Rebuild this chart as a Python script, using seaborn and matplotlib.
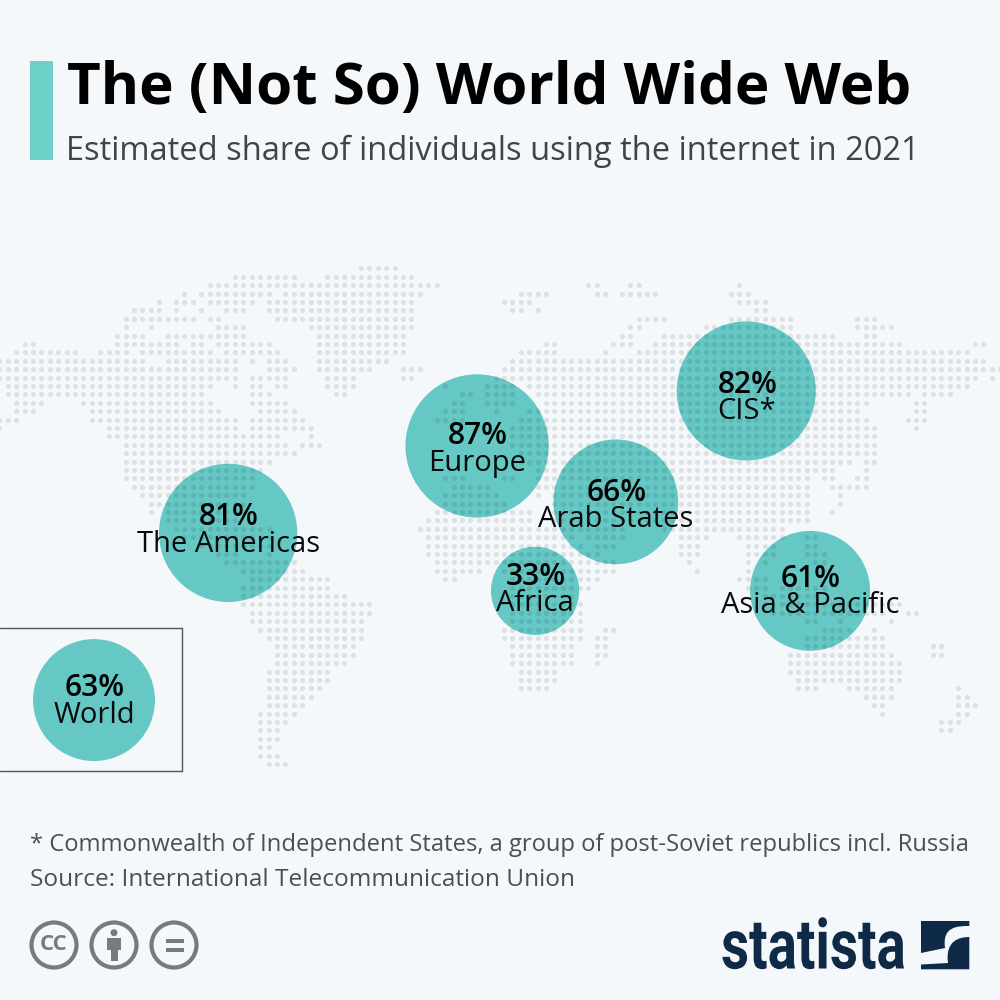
# -*- coding: utf-8 -*-
"""Share of individuals using the internet in 2021, bubbles on a dotted world map."""

import matplotlib.pyplot as plt
from matplotlib.patches import Circle, PathPatch, Rectangle
from matplotlib.path import Path
from matplotlib.patheffects import AbstractPathEffect
from matplotlib.transforms import Affine2D, Bbox
import pandas as pd
import seaborn as sns

regions = ["The Americas", "Europe", "CIS", "Arab States", "Africa", "Asia & Pacific", "World"]
region_labels = ["The Americas", "Europe", "CIS*", "Arab States", "Africa", "Asia & Pacific", "World"]
shares = [81, 87, 82, 66, 33, 61, 63]
# where each bubble sits, in columns / rows of the dot map
region_col = [26.2, 55.8, 87.8, 72.3, 62.7, 95.4, 10.25]
region_row = [31.5, 21.15, 14.6, 27.8, 38.4, 38.4, 51.4]

title = "The (Not So) World Wide Web"
subtitle = "Estimated share of individuals using the internet in 2021"
footnote = "* Commonwealth of Independent States, a group of post-Soviet republics incl. Russia"
source = "Source: International Telecommunication Union"

# dot map: one string per row, runs of occupied columns
map_rows = [
    "42:46",
    "27:34 38:48",
    "24:51 69:70 74:75 87",
    "21 23:31 33:49 61:64 70:71 73:77 86:88",
    "18 20:22 24:29 31:48 59:62 87:90",
    "15:18 20 23 26:28 31:48 60:61 63 89:90",
    "14:22 24:25 32:48 75:78 86:93 101:103",
    "14 17 25:28 36:48 74:75 83:93 101:105",
    "13:16 19:28 37:47 73:74 78:98 102:103",
    "2:3 13:20 22:23 25:31 37:47 64:65 72:74 77:106 115:116",
    "1:8 11:14 16:24 26:32 37:47 61:65 71 75:114",
    "-1:16 19:27 29 31:33 37:45 60:116",
    "-1:27 31:34 37:43 47:49 59:118",
    "-1:27 29:33 38:41 47:48 58:115 117",
    "0:24 27 29:30 32:33 38:41 52 57:60 62:114",
    "0:23 29:31 39:40 54:55 57:60 63:107 109:112",
    "1:4 9:24 29:33 53:54 57:60 64:102 108:109",
    "1:3 10:25 30:34 52:54 58 62:101 108:109",
    "-1:1 10:27 29:35 51:54 61:102 107:109",
    "-1 12:27 29:36 60:103 108",
    "12:32 36 60:103",
    "14:33 35:37 60:103",
    "14:34 61:103",
    "14:31 61:100 102:103",
    "14:30 63:98 102",
    "14:29 52:54 59:60 63:95 97:98 101:102",
    "15:29 53:57 63:95 98:102",
    "16:28 52:58 63 65:95 99",
    "17:28 52:59 65:95 99",
    "17 19:28 51:62 65:95 98",
    "19:27 50:62 65:95",
    "20:31 49:73 78:92",
    "21:31 50:67 69:73 80:83 87:92 95:96",
    "23:31 50:68 70:72 80:82 88:91 95:96",
    "25:27 31 50:70 80:82 88:91 95:97",
    "26:34 51:72 81 88 90 96:97",
    "28:35 51:56 59:72 82 88",
    "29:38 52:53 60:70 87:90",
    "28:38 60:69 88:90 92:97",
    "28:40 60:67 90:96",
    "28:43 60:68 90:106",
    "29:43 60:68 91:104 107:108",
    "29:42 60:68 95:96 99 105",
    "30:42 59:68 71:72 97:100 103",
    "31:42 59:68 70:71 95:104",
    "32:41 60:67 70:71 95:104 110:111",
    "32:41 60:67 70:71 93:105 110:111",
    "32:40 60:67 70 93:106",
    "31:38 61:65 93:106",
    "31:38 61:65 94:106",
    "31:37 61:64 94:96 100:105 113",
    "31:36 102:105 113:114",
    "31:35 103:104 113:115",
    "30:34 104 113:114",
    "30:33 111:113",
    "30:32 111:112",
    "30:32",
    "30:31",
    "30:32",
    "31:33",
]

bg = "#f5f8fb"
teal = "#65c8c4"
icon_grey = "#777b7c"
navy = "#0f2a47"

sns.set_theme(style="white")
plt.rcParams['font.family'] = ['Open Sans', 'DejaVu Sans']

# grid of the dot map -> picture coordinates
def col_to_x(col):
    return 7.8 + 8.41 * col

def row_to_y(row):
    return 268.3 + 8.4 * row

# no condensed bold font installed, so the logo word is squeezed sideways when drawn
class Squeeze(AbstractPathEffect):
    def __init__(self, sx):
        super().__init__()
        self.sx = sx

    def draw_path(self, renderer, gc, tpath, affine, rgbFace=None):
        renderer.draw_path(gc, tpath, Affine2D().scale(self.sx, 1) + affine, rgbFace)

dots = []
for r, row in enumerate(map_rows):
    for run in row.split():
        a, _, b = run.partition(":")
        for c in range(int(a), int(b or a) + 1):
            dots.append((col_to_x(c), row_to_y(r)))
df_dots = pd.DataFrame(dots, columns=["x", "y"])

df = pd.DataFrame({"region": regions, "label": region_labels, "share": shares,
                   "x": [col_to_x(c) for c in region_col],
                   "y": [row_to_y(r) for r in region_row]})

fig = plt.figure(figsize=(10, 10), dpi=100, facecolor=bg)
ax = fig.add_axes([0, 0, 1, 1], facecolor=bg)

# bubble area follows the share
pt2_per_point = 122.3
sns.scatterplot(data=df, x="x", y="y", size="share", size_norm=(33, 87),
                sizes=(33 * pt2_per_point, 87 * pt2_per_point), color=teal,
                linewidth=0, alpha=1, legend=False, ax=ax, zorder=2)

# dots go on top with low alpha, so they darken the bubbles too
sns.scatterplot(data=df_dots, x="x", y="y", s=14, color="black", alpha=0.09,
                linewidth=0, legend=False, ax=ax, zorder=3)
ax.collections[-1].set_snap(False)  # keeps the grid even

ax.set_xlim(0, 1000)
ax.set_ylim(1000, 0)
ax.axis("off")

# text offsets from bubble centre (percent, label)
pct_dy = [-16, -10, -6, -9, -14, -12, -12]
label_dy = [11.5, 17.5, 20.5, 17.5, 12.5, 14.5, 15.5]
for i, row in df.iterrows():
    ax.text(row.x + 1, row.y + pct_dy[i], f"{row.share}%", ha="center", va="center",
            fontsize=21.5, fontweight="semibold", color="black", zorder=5)
    ax.text(row.x, row.y + label_dy[i], row.label, ha="center", va="center",
            fontsize=21, color="#0a0a0a", zorder=5)

# box around the world bubble
ax.plot([0, 182, 182, 0], [628, 628, 771, 771], color="#555555", lw=1, zorder=1)

# header
ax.add_patch(Rectangle((30, 61), 23, 99, color="#6dd0c9", lw=0))
ax.text(67, 104, title, fontsize=42, fontweight="bold", color="black", va="baseline")
ax.text(66, 151.5, subtitle, fontsize=23.5, color="#3d4548", va="center")

# footer
ax.text(30, 845, footnote, fontsize=17.15, color="#4a5052", va="center")
ax.text(30, 880, source, fontsize=17.6, color="#4a5052", va="center")

# licence icons
for cx in [54, 114, 174]:
    ax.add_patch(Circle((cx, 945), 22.5, fill=False, ec=icon_grey, lw=3))
ax.text(54, 944.5, "CC", fontsize=16, fontweight="bold", color=icon_grey,
        ha="center", va="center")
ax.add_patch(Circle((114, 932.7), 3.5, color=icon_grey, lw=0))
ax.add_patch(Rectangle((107.3, 937.7), 13.4, 12.5, color=icon_grey, lw=0))
ax.add_patch(Rectangle((110.6, 949), 7.2, 12, color=icon_grey, lw=0))
ax.add_patch(Rectangle((165.7, 939.3), 18.3, 4, color=icon_grey, lw=0))
ax.add_patch(Rectangle((165.7, 947.7), 18.3, 4, color=icon_grey, lw=0))

# logo
logo = ax.text(721, 968.5, "statista", fontsize=50, fontweight="bold", color=navy,
               family=["Roboto", "DejaVu Sans"], va="baseline")
full = logo.get_window_extent(fig.canvas.get_renderer())
sx = 185 / full.width
logo.set_path_effects([Squeeze(sx)])
logo.get_window_extent = lambda renderer=None, dpi=None: Bbox.from_bounds(
    full.x0, full.y0, full.width * sx, full.height)

C = Path.CURVE4
upper = Path([(921, 921), (969.3, 921), (969.3, 926), (958, 926), (942, 926), (945, 948), (921, 953), (921, 921)],
             [Path.MOVETO, Path.LINETO, Path.LINETO, C, C, C, Path.LINETO, Path.CLOSEPOLY])
lower = Path([(969.3, 937), (960, 937), (945, 940), (948, 963), (921, 964.5), (921, 969.3), (969.3, 969.3), (969.3, 937)],
             [Path.MOVETO, C, C, C, Path.LINETO, Path.LINETO, Path.LINETO, Path.CLOSEPOLY])
ax.add_patch(PathPatch(upper, fc=navy, lw=0))
ax.add_patch(PathPatch(lower, fc=navy, lw=0))

fig.savefig("out.png", dpi=100, facecolor=bg)
